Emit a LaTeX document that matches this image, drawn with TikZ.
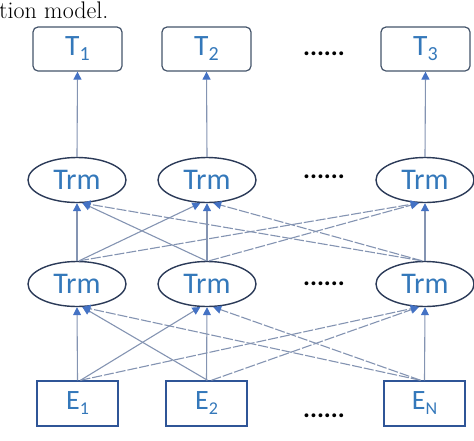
\documentclass[tikz,border=0pt]{standalone}
\usepackage{fontspec}
\setsansfont{Carlito}
\usetikzlibrary{arrows.meta,shapes.geometric}
\definecolor{txtblue}{HTML}{3478BA}
\definecolor{lineblue}{HTML}{8494B2}
\definecolor{tipblue}{HTML}{4472C4}
\definecolor{ellline}{HTML}{2B3A58}
\definecolor{tline}{HTML}{44546A}
\definecolor{eline}{HTML}{2F5597}
\newcommand{\mysubT}[1]{\raisebox{-5pt}{\fontsize{20}{20}\selectfont #1}}
\newcommand{\mysubE}[1]{\raisebox{-5pt}{\fontsize{18}{18}\selectfont #1}}
\begin{document}
\begin{tikzpicture}[x=1pt,y=-1pt,
  tbox/.style={draw=tline,line width=1.2pt,rounded corners=5pt,minimum width=89pt,minimum height=44pt,inner sep=0pt,text=txtblue,font=\sffamily\fontsize{29.5}{29.5}\selectfont},
  trm/.style={ellipse,draw=ellline,line width=1.4pt,minimum width=98pt,minimum height=45pt,inner sep=0pt,text=txtblue,font=\sffamily\fontsize{30}{30}\selectfont},
  ebox/.style={draw=eline,line width=1.5pt,minimum width=81pt,minimum height=45pt,inner sep=0pt,text=txtblue,font=\sffamily\fontsize{28}{28}\selectfont},
  dots/.style={font=\sffamily\bfseries\fontsize{26}{26}\selectfont,inner sep=0pt},
  link/.style={draw=lineblue,line width=1.1pt,-{Triangle[length=8pt,width=8pt,color=tipblue]}},
  dlink/.style={link,dash pattern=on 10pt off 2pt},
  caption/.style={font=\fontsize{24}{24}\selectfont,anchor=base west,inner sep=0pt}]
\useasboundingbox (0,0) rectangle (474,440);
\node[caption] (cap) at (-1,18.5) {tion model.};
% top boxes
\node[tbox] (t1) at (77.5,49) {T\mysubT{1}};
\node[tbox] (t2) at (206.5,49) {T\mysubT{2}};
\node[tbox] (t3) at (425.5,49) {T\mysubT{3}};
% upper Trm
\node[trm] (u1) at (77,180) {Trm};
\node[trm] (u2) at (207,180) {Trm};
\node[trm] (u3) at (425,180) {Trm};
% lower Trm
\node[trm] (l1) at (77,284) {Trm};
\node[trm] (l2) at (207,284) {Trm};
\node[trm] (l3) at (425,284) {Trm};
% E boxes
\node[ebox] (e1) at (77.5,403.5) {E\mysubE{1}};
\node[ebox] (e2) at (206.5,403.5) {E\mysubE{2}};
\node[ebox] (en) at (424.5,403.5) {E\mysubE{N}};
% dots
\node[dots] (d1) at (324,54) {......};
\node[dots] (d2) at (324,177) {......};
\node[dots] (d3) at (324,284) {......};
\node[dots] (d4) at (324,416) {......};
% vertical arrows
\draw[link] (u1.north) -- (t1.south);
\draw[link] (u2.north) -- (t2.south);
\draw[link] (u3.north) -- (t3.south);
\draw[link] (l1.north) -- (u1.south);
\draw[link] (l2.north) -- (u2.south);
\draw[link] (l3.north) -- (u3.south);
\draw[link] (e1.north) -- (l1.south);
\draw[link] (e2.north) -- (l2.south);
\draw[link] (en.north) -- (l3.south);
% cross links, lower Trm -> upper Trm
\draw[link] (l1.85) -- (u2.254);
\draw[dlink] (l1.85) -- (u3.255);
\draw[link] (l2.92) -- (u1.283);
\draw[dlink] (l2.85) -- (u3.255);
\draw[dlink] (l3.97) -- (u1.283);
\draw[dlink] (l3.97) -- (u2.285);
% cross links, E -> lower Trm
\coordinate (e1a) at ([xshift=3pt]e1.north);
\coordinate (e2a) at ([xshift=1pt]e2.north);
\coordinate (e2b) at ([xshift=5pt]e2.north);
\coordinate (ena) at ([xshift=-4pt]en.north);
\draw[link] (e1a) -- (l2.254);
\draw[dlink] (e1a) -- (l3.255);
\draw[link] (e2a) -- (l1.283);
\draw[dlink] (e2b) -- (l3.255);
\draw[dlink] (ena) -- (l1.283);
\draw[dlink] (ena) -- (l2.285);
\end{tikzpicture}
\end{document}
